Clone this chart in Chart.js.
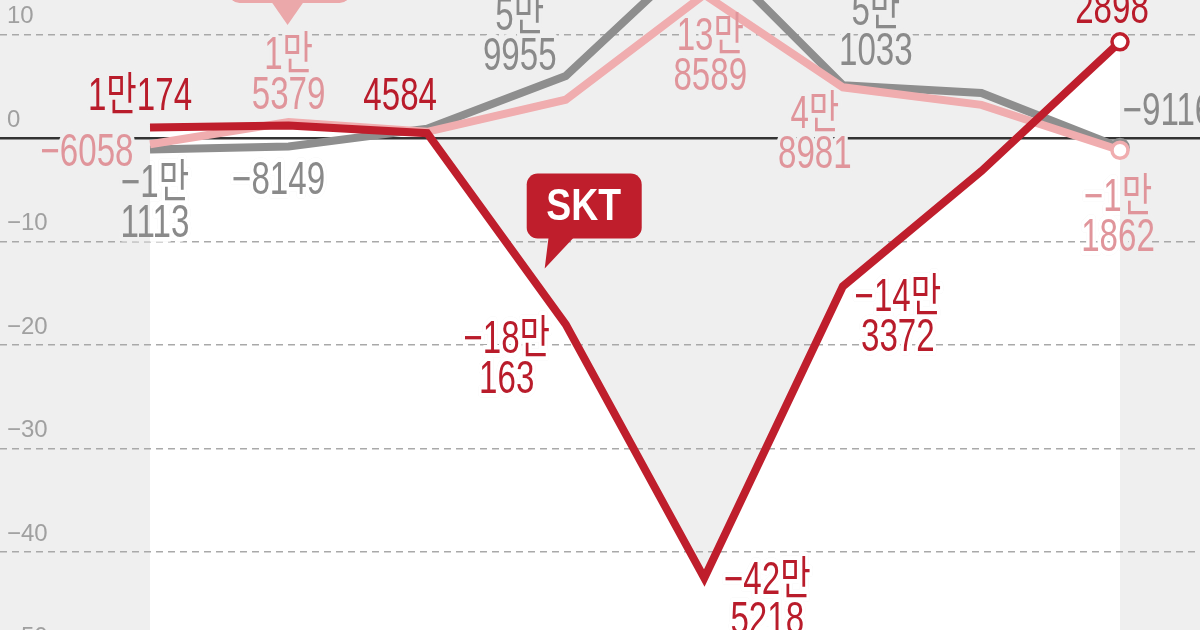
<!DOCTYPE html>
<html>
<head>
<meta charset="utf-8">
<script src="https://cdn.jsdelivr.net/npm/chart.js@4.4.1/dist/chart.umd.min.js"></script>
<style>
html, body { margin:0; padding:0; background:#efefef; overflow:hidden; }
#wrap { width:1200px; height:680px; position:relative; }
canvas { display:block; background:#efefef; }
</style>
</head>
<body>
<div id="wrap"><canvas id="netChart" width="1200" height="680"></canvas></div>
<script>
// Categories (axis labels are out of frame in the picture)
var months = ['1월', '2월', '3월', '4월', '5월', '6월', '7월', '8월'];
// Net change, persons
var sktNet = [10174, 12000, 4584, -180163, -425218, -143372, -32000, 92898];
var lguNet = [-6058, 15379, 6000, 37000, 138589, 48981, 32000, -11862];
var ktNet  = [-11113, -8149, 9000, 59955, 185000, 51033, 43500, -9116];
// Y ticks, in 만
var yTicks = [10, 0, -10, -20, -30, -40, -50];

var RED = '#bf1e2c';
var PINK = '#f0adaf';
var GREY = '#8e8e8e';
var BG = '#efefef';
const LINE_GAP = 40;
const SQUEEZE = 0.72;
var LABEL_FONT = '46px "Liberation Sans", "Noto Sans CJK KR", sans-serif';

// Where each value label goes: [point index, dx, dy of first line, one line?]
var sktPlace = [[0, -10, -30, true], [2, -27, -36, true], [3, -59, 16], [4, 63, 3], [5, 55, 12], [7, -8, -72]];
var lguPlace = [[0, -63, 9], [1, 0, -66], [4, 6, 43], [5, -28, 28], [7, -2, 48]];
var ktPlace  = [[0, 5, 35], [1, -10, 35], [3, -46, -59], [5, 33, -73], [7, 48, -35]];

/*
 * 10174 -> "1만174", -180163 -> ["−18만", "163"]
 */
function formatMan(v, oneLine)
{
	var sign = v < 0 ? '\u2212' : '';
	var a = Math.abs(v);
	var man = Math.floor(a / 10000);
	var rest = a % 10000;
	if (man === 0) return [sign + rest];
	if (oneLine) return [sign + man + '만' + rest];
	return [sign + man + '만', String(rest)];
}

function toPoints(arr)
{
	return arr.map(function(v, i) { return {x: i, y: v / 10000}; });
}

function makeSet(name, values, color, order, fill)
{
	var radius = values.map(function(v, i) { return i === values.length - 1 ? 8 : 0; });
	return {
		label: name,
		data: toPoints(values),
		borderColor: color,
		backgroundColor: '#ffffff',
		borderWidth: 8,
		borderJoinStyle: 'miter',
		tension: 0,
		fill: fill,
		order: order,
		pointRadius: radius,
		pointBackgroundColor: '#ffffff',
		pointBorderColor: color,
		pointBorderWidth: 3.5
	};
}

var series = [
	{idx: 0, values: sktNet, place: sktPlace, color: '#b91c2b'},
	{idx: 1, values: lguNet, place: lguPlace, color: '#e0959b'},
	{idx: 2, values: ktNet,  place: ktPlace,  color: '#8a8a8a'}
];

function putText(c, txt, x, y, halo, sq)
{
	c.save();
	c.translate(x, y);
	c.scale(sq || SQUEEZE, 1);
	if (halo) c.strokeText(txt, 0, 0);
	else c.fillText(txt, 0, 0);
	c.restore();
}

function eachLabel(chart, cb)
{
	series.forEach(function(s) {
		var meta = chart.getDatasetMeta(s.idx);
		s.place.forEach(function(p) {
			var pt = meta.data[p[0]];
			var lines = formatMan(s.values[p[0]], p[3]);
			lines.forEach(function(txt, k) {
				cb(s, txt, pt.x + p[1], pt.y + p[2] + k * LINE_GAP);
			});
		});
	});
}

// halo round the labels so that grid lines break under them
function drawHalos(chart)
{
	var c = chart.ctx;
	var pts = chart.getDatasetMeta(0).data;
	var bottom = chart.chartArea.bottom;
	c.save();
	c.font = LABEL_FONT;
	c.textAlign = 'center';
	c.textBaseline = 'middle';
	c.lineWidth = 9;
	c.lineJoin = 'round';
	c.strokeStyle = BG;
	eachLabel(chart, function(s, txt, x, y) { putText(c, txt, x, y, true); });
	// white part under the SKT line
	c.beginPath();
	c.moveTo(pts[0].x, bottom);
	pts.forEach(function(p) { c.lineTo(p.x, p.y); });
	c.lineTo(pts[pts.length - 1].x, bottom);
	c.closePath();
	c.clip();
	c.strokeStyle = '#ffffff';
	eachLabel(chart, function(s, txt, x, y) { putText(c, txt, x, y, true); });
	c.restore();
}

function drawValues(chart)
{
	var c = chart.ctx;
	c.save();
	c.font = LABEL_FONT;
	c.textAlign = 'center';
	c.textBaseline = 'middle';
	eachLabel(chart, function(s, txt, x, y) {
		c.fillStyle = s.color;
		putText(c, txt, x, y, false);
	});
	c.restore();
}

// speech boxes
function drawCallouts(chart)
{
	var c = chart.ctx;
	var p3 = chart.getDatasetMeta(0).data[3];
	var tx = p3.x - 21, ty = p3.y - 56;
	c.save();
	c.fillStyle = RED;
	c.beginPath();
	c.roundRect(tx - 18, ty - 95, 115, 65, 11);
	c.fill();
	c.beginPath();
	c.moveTo(tx + 4, ty - 32);
	c.lineTo(tx + 30, ty - 32);
	c.lineTo(tx, ty);
	c.closePath();
	c.fill();
	c.fillStyle = '#ffffff';
	c.font = 'bold 45px "Liberation Sans", sans-serif';
	c.textAlign = 'center';
	c.textBaseline = 'middle';
	putText(c, 'SKT', tx + 39, ty - 61, false, 0.83);

	var q1 = chart.getDatasetMeta(1).data[1];
	var ux = q1.x - 1, uy = q1.y - 97;
	c.fillStyle = '#eba8aa';
	c.beginPath();
	c.roundRect(ux - 58, uy - 70, 120, 48, 10);
	c.fill();
	c.beginPath();
	c.moveTo(ux - 16, uy - 23);
	c.lineTo(ux + 16, uy - 23);
	c.lineTo(ux, uy);
	c.closePath();
	c.fill();
	c.restore();
}

var valueLabels = {
	id: 'valueLabels',
	beforeDatasetsDraw: function(chart) { drawHalos(chart); },
	afterDatasetsDraw: function(chart) { drawValues(chart); drawCallouts(chart); }
};

var ctx = document.getElementById('netChart');
var netChart = new Chart(ctx, {
	type: 'line',
	data: {
		labels: months,
		datasets: [
			makeSet('SKT', sktNet, RED, 0, 'start'),
			makeSet('LG유플러스', lguNet, PINK, 1, false),
			makeSet('KT', ktNet, GREY, 2, false)
		]
	},
	options: {
		responsive: false,
		animation: false,
		layout: { padding: 0, autoPadding: false },
		plugins: {
			legend: { display: false },
			tooltip: { enabled: false },
			filler: { drawTime: 'beforeDraw' }
		},
		scales: {
			x: { type: 'linear', display: false, min: -1.0825, max: 7.5773 },
			y: {
				min: -52.37,
				max: 13.333,
				afterBuildTicks: function(axis) {
					axis.ticks = yTicks.map(function(v) { return {value: v}; });
				},
				afterFit: function(axis) {
					axis.width = 0;
					axis.paddingTop = 0;
					axis.paddingBottom = 0;
				},
				grid: {
					drawTicks: false,
					color: function(c) { return c.tick && c.tick.value === 0 ? '#333333' : '#a9a9a9'; },
					lineWidth: function(c) { return c.tick && c.tick.value === 0 ? 2.5 : 1.4; }
				},
				border: {
					display: false,
					dash: function(c) { return c.tick && c.tick.value === 0 ? [] : [7, 5]; }
				},
				ticks: {
					mirror: true,
					padding: 7,
					labelOffset: -18,
					color: '#a0a0a0',
					font: { family: '"Liberation Sans Narrow", "Liberation Sans", sans-serif', size: 24 },
					callback: function(v) { return String(v).replace('-', '\u2212'); }
				}
			}
		}
	},
	plugins: [valueLabels]
});
</script>
</body>
</html>
